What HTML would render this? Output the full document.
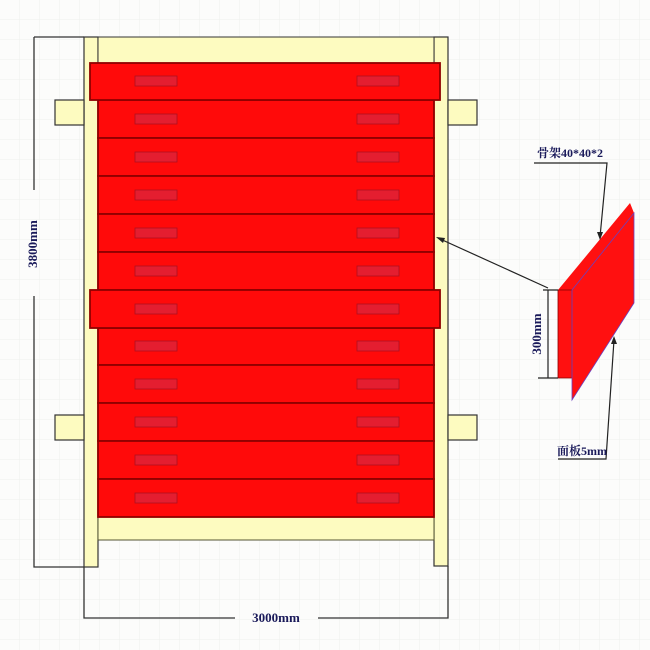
<!DOCTYPE html>
<html><head><meta charset="utf-8"><style>
html,body{margin:0;padding:0;background:#fff;}
svg{display:block;}
text{font-family:"Liberation Serif","Noto Serif CJK SC",serif;font-weight:bold;fill:#1a1a5a;}
</style></head><body>
<svg width="650" height="650" viewBox="0 0 650 650" xmlns="http://www.w3.org/2000/svg">
<defs>
<pattern id="g" width="20" height="20" patternUnits="userSpaceOnUse">
<path d="M20 0V20M0 20H20" stroke="#eef0ee" stroke-width="1" fill="none"/>
</pattern>
</defs>
<rect width="650" height="650" fill="#fcfcfb"/>
<rect width="650" height="650" fill="url(#g)"/>
<g stroke="#333" stroke-width="1.3" fill="none">
<path d="M34 37H84M34 37V190M34 296V567H84"/>
<path d="M84 567V618H235M318 618H448V566"/>
</g>
<text x="0" y="0" font-size="13" transform="translate(37,244) rotate(-90)" text-anchor="middle">3800mm</text>
<text x="276" y="622" font-size="13" text-anchor="middle">3000mm</text>
<rect x="84" y="37" width="14" height="530" fill="#fdfbc0" stroke="#333" stroke-width="1.2"/>
<rect x="434" y="37" width="14" height="529" fill="#fdfbc0" stroke="#333" stroke-width="1.2"/>
<rect x="98" y="37" width="336" height="26" fill="#fdfbc0" stroke="#333" stroke-width="1"/>
<rect x="98" y="517" width="336" height="23" fill="#fdfbc0" stroke="#553" stroke-width="1"/>
<g fill="#fdfbc0" stroke="#333" stroke-width="1.2">
<rect x="55" y="100" width="29" height="25"/>
<rect x="55" y="415" width="29" height="25"/>
<rect x="448" y="100" width="29" height="25"/>
<rect x="448" y="415" width="29" height="25"/>
</g>
<g fill="#ff0a0a" stroke="#900000" stroke-width="1.8">
<rect x="98" y="100" width="336" height="38"/>
<rect x="98" y="138" width="336" height="38"/>
<rect x="98" y="176" width="336" height="38"/>
<rect x="98" y="214" width="336" height="38"/>
<rect x="98" y="252" width="336" height="38"/>
<rect x="98" y="328" width="336" height="37"/>
<rect x="98" y="365" width="336" height="38"/>
<rect x="98" y="403" width="336" height="38"/>
<rect x="98" y="441" width="336" height="38"/>
<rect x="98" y="479" width="336" height="38"/>
<rect x="90" y="63" width="350" height="37"/>
<rect x="90" y="290" width="350" height="38"/>
</g>
<g fill="#e41e30" stroke="#b01020" stroke-width="0.8">
<rect x="135" y="76" width="42" height="10"/><rect x="357" y="76" width="42" height="10"/>
<rect x="135" y="114" width="42" height="10"/><rect x="357" y="114" width="42" height="10"/>
<rect x="135" y="152" width="42" height="10"/><rect x="357" y="152" width="42" height="10"/>
<rect x="135" y="190" width="42" height="10"/><rect x="357" y="190" width="42" height="10"/>
<rect x="135" y="228" width="42" height="10"/><rect x="357" y="228" width="42" height="10"/>
<rect x="135" y="266" width="42" height="10"/><rect x="357" y="266" width="42" height="10"/>
<rect x="135" y="304" width="42" height="10"/><rect x="357" y="304" width="42" height="10"/>
<rect x="135" y="341" width="42" height="10"/><rect x="357" y="341" width="42" height="10"/>
<rect x="135" y="379" width="42" height="10"/><rect x="357" y="379" width="42" height="10"/>
<rect x="135" y="417" width="42" height="10"/><rect x="357" y="417" width="42" height="10"/>
<rect x="135" y="455" width="42" height="10"/><rect x="357" y="455" width="42" height="10"/>
<rect x="135" y="493" width="42" height="10"/><rect x="357" y="493" width="42" height="10"/>
</g>
<polygon points="558,290 630,203 634,213 572,290" fill="#ff1010"/>
<rect x="558" y="290" width="14" height="88" fill="#ff1010" stroke="#8a0000" stroke-width="0.8"/>
<polygon points="572,290 634,213 634,303 572,400" fill="#ff1010" stroke="#6a40c0" stroke-width="0.8"/>
<g stroke="#222" stroke-width="1.2" fill="none">
<path d="M543 290H558M538 378H558M548 290V378"/>
<path d="M548 288L438 238"/>
<path d="M534 163H607L600 237"/>
<path d="M558 459H606L614 340"/>
</g>
<polygon points="436,237 445,238 443,243" fill="#222"/>
<polygon points="614,336 611,344 617,344" fill="#222"/>
<polygon points="600,240 597,232 603,232" fill="#222"/>
<text x="0" y="0" font-size="13" transform="translate(541,334) rotate(-90)" text-anchor="middle">300mm</text>
<text x="570" y="157" font-size="12" text-anchor="middle">骨架40*40*2</text>
<text x="582" y="455" font-size="12" text-anchor="middle">面板5mm</text>
</svg>
</body></html>
